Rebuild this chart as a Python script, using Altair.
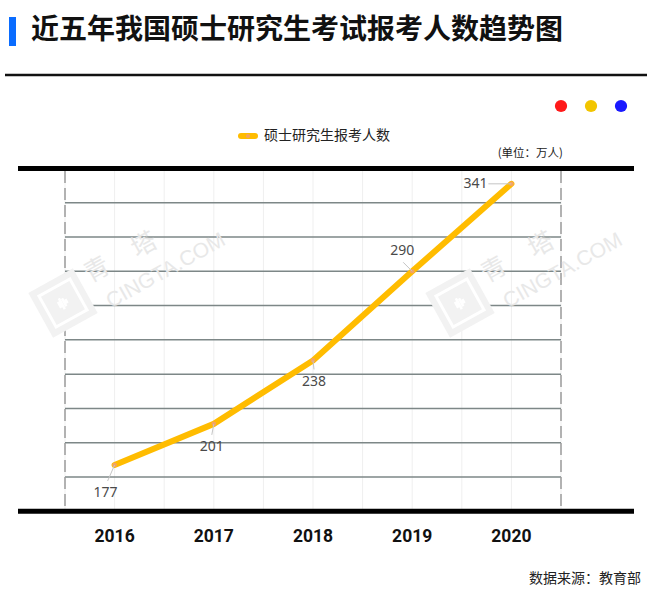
import altair as alt
import pandas as pd

# ---- data -------------------------------------------------------------
years = [2016, 2017, 2018, 2019, 2020]
applicants = [177, 201, 238, 290, 341]          # 硕士研究生报考人数（万人）
year_labels = ["2016", "2017", "2018", "2019", "2020"]
grid_values = [170, 190, 210, 230, 250, 270, 290, 310, 330]
half_year_marks = [2015.5, 2016, 2016.5, 2017, 2017.5, 2018, 2018.5,
                   2019, 2019.5, 2020, 2020.5]
frame_edges = [2015.5, 2020.5]
frame_values = [150, 350]

# label placement around each point: (text dx, text dy, leader dx, leader dy)
label_offsets = {
    2016: (-9, 28, -7, 16),
    2017: (-2, 23, -2, 11),
    2018: (1, 22, 1, 9),
    2019: (-10, -20, -9, -9),
    2020: (-36, 0, -23, 0),
}

LINE_COLOR = "#FFBC00"
DOT_COLOR = "#F4A460"
CJK = "Noto Sans CJK SC"

xs = alt.Scale(domain=[2015.5, 2020.5], range=[65, 561], nice=False, zero=False)
ys = alt.Scale(domain=[150, 350], range=[511.3, 168.4], nice=False, zero=False)

df = pd.DataFrame({"year": years, "value": applicants, "label": year_labels})
one = pd.DataFrame({"k": [0]})

layers = []

# faint vertical grid every half year
layers.append(
    alt.Chart(pd.DataFrame({"x": half_year_marks}))
    .mark_rule(color="#efefef", strokeWidth=1)
    .encode(x=alt.X("x:Q", scale=xs, axis=None),
            y=alt.value(170), y2=alt.value(509))
)

# horizontal value grid
layers.append(
    alt.Chart(pd.DataFrame({"v": grid_values}))
    .mark_rule(color="#7d8787", strokeWidth=1.5)
    .encode(y=alt.Y("v:Q", scale=ys, axis=None),
            x=alt.value(65), x2=alt.value(561))
)

# dashed side borders
layers.append(
    alt.Chart(pd.DataFrame({"x": frame_edges}))
    .mark_rule(color="#9c9c9c", strokeWidth=1.5, strokeDash=[12, 5])
    .encode(x=alt.X("x:Q", scale=xs, axis=None),
            y=alt.value(171), y2=alt.value(509))
)

# heavy top / bottom rules
layers.append(
    alt.Chart(pd.DataFrame({"v": frame_values}))
    .mark_rule(color="#000000", strokeWidth=5)
    .encode(y=alt.Y("v:Q", scale=ys, axis=None),
            x=alt.value(18), x2=alt.value(634))
)

# watermark (two copies)
for shift in (0, 397):
    layers.append(
        alt.Chart(one).mark_point(shape="square", filled=True, size=2600,
                                  angle=331, color="#f2f2f2", opacity=1)
        .encode(x=alt.value(63 + shift), y=alt.value(303))
    )
    layers.append(
        alt.Chart(one).mark_point(shape="square", filled=False, size=1250,
                                  angle=331, color="#ffffff", strokeWidth=3,
                                  opacity=1)
        .encode(x=alt.value(63 + shift), y=alt.value(303))
    )
    layers.append(
        alt.Chart(one).mark_point(
            shape="M-0.35,-0.3L-0.35,0.3M-0.12,-0.55L-0.12,0.55M0.12,-0.4L0.12,0.4M0.35,-0.2L0.35,0.2",
            filled=False, size=500, angle=331, color="#ffffff", strokeWidth=2.5,
            opacity=1)
        .encode(x=alt.value(63 + shift), y=alt.value(303))
    )
    for ch, cx, cy in (("青", 97, 270), ("塔", 144, 245)):
        layers.append(
            alt.Chart(one).mark_text(text=ch, font=CJK, fontSize=25, angle=331,
                                     color="#e8e8e8", align="center",
                                     baseline="middle")
            .encode(x=alt.value(cx + shift), y=alt.value(cy))
        )
    layers.append(
        alt.Chart(one).mark_text(text="CINGTA.COM", font="Liberation Sans",
                                 fontSize=21, angle=331, color="#e8e8e8",
                                 align="center", baseline="middle")
        .encode(x=alt.value(166 + shift), y=alt.value(271))
    )

# main trend line and point markers
layers.append(
    alt.Chart(df).mark_line(color=LINE_COLOR, strokeWidth=6, strokeCap="round",
                            strokeJoin="round")
    .encode(x=alt.X("year:Q", scale=xs, axis=None),
            y=alt.Y("value:Q", scale=ys, axis=None))
)
layers.append(
    alt.Chart(df).mark_circle(size=22, color=DOT_COLOR, opacity=1)
    .encode(x=alt.X("year:Q", scale=xs, axis=None),
            y=alt.Y("value:Q", scale=ys, axis=None))
)

# value labels with leader lines
for yr, (tdx, tdy, ldx, ldy) in label_offsets.items():
    sub = df[df["year"] == yr]
    layers.append(
        alt.Chart(sub).mark_rule(color="#c4c4c4", strokeWidth=1,
                                 x2Offset=ldx, y2Offset=ldy)
        .encode(x=alt.X("year:Q", scale=xs, axis=None),
                y=alt.Y("value:Q", scale=ys, axis=None),
                x2="year:Q", y2="value:Q")
    )
    layers.append(
        alt.Chart(sub).mark_text(font="Noto Sans", fontSize=14, color="#4a4a4a",
                                 dx=tdx, dy=tdy, align="center",
                                 baseline="middle")
        .encode(x=alt.X("year:Q", scale=xs, axis=None),
                y=alt.Y("value:Q", scale=ys, axis=None),
                text="value:Q")
    )

# year labels under the chart
layers.append(
    alt.Chart(df).mark_text(font="Roboto", fontWeight="bold",
                            fontSize=17.5, color="#111111", align="center",
                            baseline="middle")
    .encode(x=alt.X("year:Q", scale=xs, axis=None), y=alt.value(537),
            text="label:N")
)

# title block
layers.append(
    alt.Chart(one).mark_rect(color="#0A6CFF")
    .encode(x=alt.value(9), x2=alt.value(16), y=alt.value(17), y2=alt.value(46))
)
layers.append(
    alt.Chart(one).mark_text(text="近五年我国硕士研究生考试报考人数趋势图",
                             font=CJK, fontWeight="bold", fontSize=28,
                             color="#111111", align="left", baseline="middle")
    .encode(x=alt.value(31), y=alt.value(31))
)
layers.append(
    alt.Chart(one).mark_rule(color="#111111", strokeWidth=2.5)
    .encode(x=alt.value(5), x2=alt.value(647), y=alt.value(75))
)

# three decorative dots
for cx, col in ((561, "#FF1A1A"), (591, "#F2C500"), (621, "#1A1AFF")):
    layers.append(
        alt.Chart(one).mark_circle(size=150, color=col, opacity=1)
        .encode(x=alt.value(cx), y=alt.value(106))
    )

# legend
layers.append(
    alt.Chart(one).mark_rule(color=LINE_COLOR, strokeWidth=6, strokeCap="round")
    .encode(x=alt.value(241), x2=alt.value(255), y=alt.value(136))
)
layers.append(
    alt.Chart(one).mark_circle(size=18, color=DOT_COLOR, opacity=1)
    .encode(x=alt.value(248), y=alt.value(136))
)
layers.append(
    alt.Chart(one).mark_text(text="硕士研究生报考人数", font=CJK, fontSize=14,
                             color="#222222", align="left", baseline="middle")
    .encode(x=alt.value(264), y=alt.value(136))
)

# unit note and source
layers.append(
    alt.Chart(one).mark_text(text="(单位：万人)", font=CJK, fontSize=11.5,
                             color="#222222", align="right", baseline="middle")
    .encode(x=alt.value(563), y=alt.value(154))
)
layers.append(
    alt.Chart(one).mark_text(text="数据来源：教育部", font=CJK, fontSize=14,
                             color="#222222", align="right", baseline="middle")
    .encode(x=alt.value(641), y=alt.value(579))
)

chart = (
    alt.layer(*layers)
    .properties(width=654, height=595, padding=0,
                autosize=alt.AutoSizeParams(type="none"),
                background="#ffffff")
    .configure_view(stroke=None)
)

chart.save("out.html", embed_options={"renderer": "svg", "actions": False})
